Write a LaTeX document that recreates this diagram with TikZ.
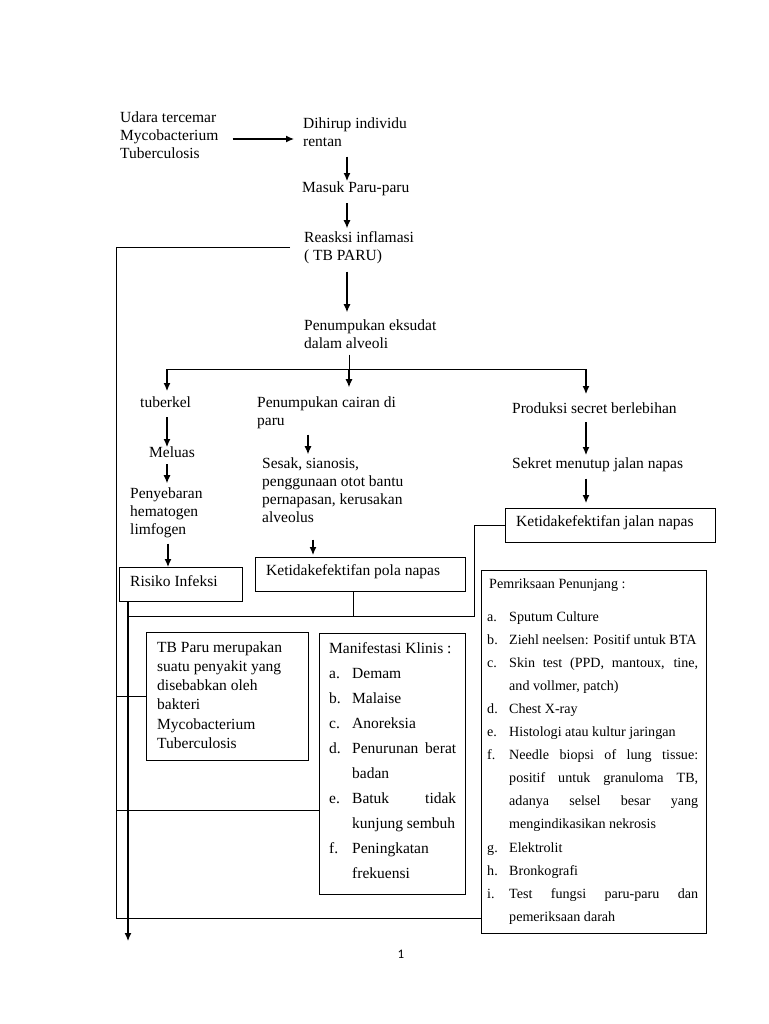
\documentclass[tikz,border=0pt]{standalone}
\usepackage{fontspec}
\setmainfont{Liberation Serif}
\newfontfamily\pgnum{Carlito}
\usetikzlibrary{arrows.meta,calc}
\newcommand\ml[1]{\begin{tabular}[t]{@{}l@{}}#1\end{tabular}}
\newcommand\fmain{\fontsize{15.5}{18}\selectfont}
\newcommand\litem[3]{\par\noindent\hangindent=#3\hangafter=1\makebox[#3][l]{#1}#2}
\begin{document}
\begin{tikzpicture}[x=1pt,y=-1pt,
  txt/.style={anchor=base west, inner sep=0pt, font=\fmain},
  box/.style={draw, line width=1.3pt, inner sep=0pt, anchor=north west},
  ln/.style={line width=1pt},
  arr/.style={line width=1.2pt, -{Latex[length=8pt,width=7pt]}}]
\useasboundingbox[fill=white] (0,0) rectangle (768,1024);

% ---- text nodes top chain
\node[txt] (udara) at (120,123) {\ml{Udara tercemar\\Mycobacterium\\Tuberculosis}};
\node[txt] (dihirup) at (303,129) {\ml{Dihirup individu\\rentan}};
\node[txt] (masuk) at (302,193) {Masuk Paru-paru};
\node[txt] (reaksi) at (304,242) {\ml{Reasksi inflamasi\\( TB PARU)}};
\node[txt] (eksudat) at (304,330) {\ml{Penumpukan eksudat\\dalam alveoli}};

% ---- branches
\node[txt] (tuberkel) at (140,407) {tuberkel};
\node[txt] (meluas) at (149,457) {Meluas};
\node[txt] (sebar) at (130,498) {\ml{Penyebaran\\hematogen\\limfogen}};
\node[txt] (cairan) at (257,407) {\ml{Penumpukan cairan di\\paru}};
\node[txt] (sesak) at (262,468) {\ml{Sesak, sianosis,\\penggunaan otot bantu\\pernapasan, kerusakan\\alveolus}};
\node[txt] (produksi) at (512,413) {Produksi secret berlebihan};
\node[txt] (sekret) at (512,468) {Sekret menutup jalan napas};

% ---- boxes
\node[box, minimum width=210, minimum height=34] (jalan) at (505,508) {};
\node[txt] (jalanT) at (516,526) {Ketidakefektifan jalan napas};
\node[box, minimum width=123, minimum height=34] (risk) at (119,567) {};
\node[txt] (riskT) at (130,586) {Risiko Infeksi};
\node[box, minimum width=210, minimum height=34] (pola) at (255,557) {};
\node[txt] (polaT) at (266,575) {Ketidakefektifan pola napas};
\node[box, minimum width=162, minimum height=128] (tb) at (146,632) {};
\node[txt, font=\fontsize{15.5}{19.3}\selectfont] (tbT) at (157,652)
  {\ml{TB Paru merupakan\\suatu penyakit yang\\disebabkan oleh\\bakteri\\Mycobacterium\\Tuberculosis}};
\node[box, minimum width=146, minimum height=261] (mk) at (319,633) {};
\node[txt] (mkT) at (329,653) {\parbox[t]{127pt}{\fontsize{15.5}{25.1}\selectfont
  Manifestasi Klinis :
  \litem{a.}{Demam}{23pt}
  \litem{b.}{Malaise}{23pt}
  \litem{c.}{Anoreksia}{23pt}
  \litem{d.}{Penurunan berat\linebreak badan}{23pt}
  \litem{e.}{Batuk tidak\linebreak kunjung sembuh}{23pt}
  \litem{f.}{Peningkatan\newline frekuensi}{23pt}}};
\node[box, minimum width=225, minimum height=363] (pp) at (481,570) {};
\node[txt, font=\fontsize{14.1}{17}\selectfont] (ppH) at (489,588) {Pemriksaan Penunjang :};
\node[txt] (ppT) at (487,621) {\parbox[t]{211pt}{\fontsize{14.1}{23.1}\selectfont
  \litem{a.}{Sputum Culture}{22pt}
  \litem{b.}{Ziehl neelsen: Positif untuk BTA}{22pt}
  \litem{c.}{Skin test (PPD, mantoux, tine,\linebreak and vollmer, patch)}{22pt}
  \litem{d.}{Chest X-ray}{22pt}
  \litem{e.}{Histologi atau kultur jaringan}{22pt}
  \litem{f.}{Needle biopsi of lung tissue:\linebreak positif untuk granuloma TB,\linebreak adanya selsel besar yang\linebreak mengindikasikan nekrosis}{22pt}
  \litem{g.}{Elektrolit}{22pt}
  \litem{h.}{Bronkografi}{22pt}
  \litem{i.}{Test fungsi paru-paru dan\linebreak pemeriksaan darah}{22pt}}};

\node[font=\pgnum\fontsize{13}{15}\selectfont, inner sep=0pt] (pg) at (401,954) {1};

% ---- helper coordinates
\coordinate (cA) at (347,0);
\coordinate (cL) at (167,0);
\coordinate (cM) at (349,0);
\coordinate (cR) at (586,0);
\coordinate (cS) at (168,0);
\coordinate (cC) at (308,0);
\coordinate (cP) at (313,0);
\coordinate (split) at (349,369);
\coordinate (outer) at (116,0);
\coordinate (inner) at (128,0);
\coordinate (bus) at (0,616);
\coordinate (bot) at (0,918);
\coordinate (rise) at (474,0);
\coordinate (down) at (128,941);

% ---- arrows of top chain
\draw[arr] ($(udara.east |- 0,139)+(14,0)$) -- ($(dihirup.west |- 0,139)+(-9,0)$);
\draw[arr] ($(dihirup.south -| cA)+(0,4)$) -- ($(masuk.north -| cA)+(0,-1)$);
\draw[arr] ($(masuk.south -| cA)+(0,7)$) -- ($(reaksi.north -| cA)+(0,-1)$);
\draw[arr] ($(reaksi.south -| cA)+(0,6)$) -- ($(eksudat.north -| cA)+(0,-5)$);

% ---- split
\draw[ln] ($(eksudat.south -| cM)+(0,1)$) -- (split);
\draw[ln] (split -| cL) -- (split -| cR);
\draw[arr] (split -| cL) -- ($(tuberkel.north -| cL)+(0,-5)$);
\draw[arr] (split) -- ($(cairan.north -| cM)+(0,-7)$);
\draw[arr] (split -| cR) -- ($(produksi.north -| cR)+(0,-8)$);

% ---- left column
\draw[arr] ($(tuberkel.south -| cL)+(0,10)$) -- ($(meluas.north -| cL)+(0,1)$);
\draw[arr] ($(meluas.south -| cL)+(0,7)$) -- ($(sebar.north -| cL)+(0,-2)$);
\draw[arr] ($(sebar.south -| cS)+(0,4)$) -- (risk.north -| cS);

% ---- middle column
\draw[arr] ($(cairan.south -| cC)+(0,4)$) -- ($(sesak.north -| cC)+(0,-1)$);
\draw[arr] ($(sesak.south -| cP)+(0,12)$) -- ($(pola.north -| cP)+(0,-2)$);

% ---- right column
\draw[arr] ($(produksi.south -| cR)+(0,9)$) -- ($(sekret.north -| cR)+(0,-2)$);
\draw[arr] ($(sekret.south -| cR)+(0,7)$) -- ($(jalan.north -| cR)+(0,-5)$);

% ---- feedback lines
\draw[ln] ($(reaksi.west)+(-14,0)$) -| (outer |- bot) -- (pp.west |- bot);
\draw[ln] (outer |- tb.west) -- (tb.west);
\draw[ln] (outer |- 0,810) -- (mk.west |- 0,810);
\draw[arr] (risk.south -| inner) -- (down);
\draw[ln] (inner |- bus) -- (rise |- bus) -- (rise |- jalan.west) -- (jalan.west);
\draw[ln] (pola.south -| 353,0) -- (bus -| 353,0);
\end{tikzpicture}
\end{document}
